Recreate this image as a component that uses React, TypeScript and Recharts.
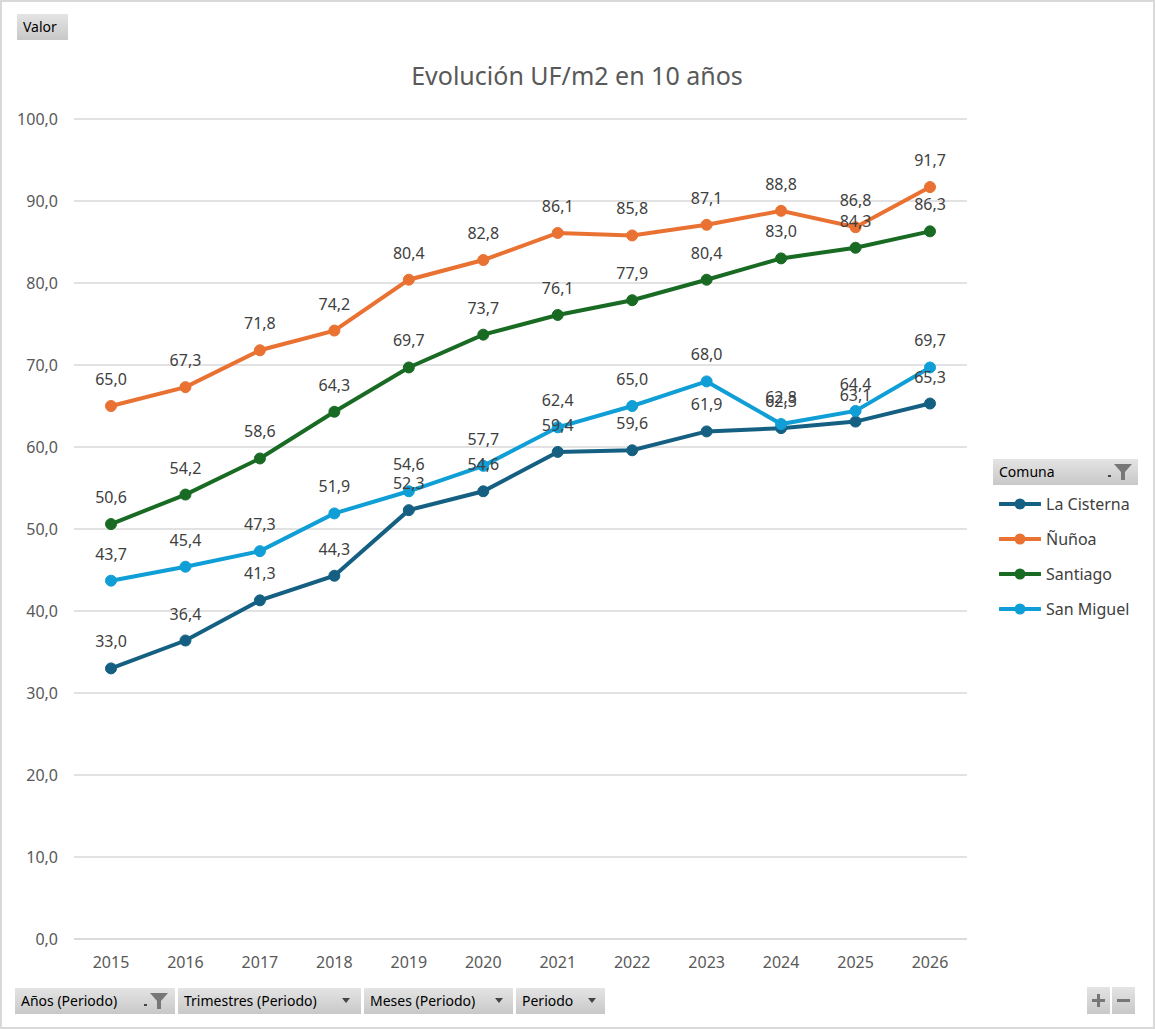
import React from 'react';
import { LineChart, Line, XAxis, YAxis, CartesianGrid, LabelList } from 'recharts';

const years = ['2015', '2016', '2017', '2018', '2019', '2020', '2021', '2022', '2023', '2024', '2025', '2026'];
const laCisterna = [33.0, 36.4, 41.3, 44.3, 52.3, 54.6, 59.4, 59.6, 61.9, 62.3, 63.1, 65.3];
const nunoa = [65.0, 67.3, 71.8, 74.2, 80.4, 82.8, 86.1, 85.8, 87.1, 88.8, 86.8, 91.7];
const santiago = [50.6, 54.2, 58.6, 64.3, 69.7, 73.7, 76.1, 77.9, 80.4, 83.0, 84.3, 86.3];
const sanMiguel = [43.7, 45.4, 47.3, 51.9, 54.6, 57.7, 62.4, 65.0, 68.0, 62.8, 64.4, 69.7];
const yTicks = [0, 10, 20, 30, 40, 50, 60, 70, 80, 90, 100];

const series = [
  { key: 'laCisterna', name: 'La Cisterna', color: '#156082', values: laCisterna },
  { key: 'nunoa', name: 'Ñuñoa', color: '#E97132', values: nunoa },
  { key: 'santiago', name: 'Santiago', color: '#196B24', values: santiago },
  { key: 'sanMiguel', name: 'San Miguel', color: '#0F9ED5', values: sanMiguel },
];

const data = years.map((year, i) => {
  const row: Record<string, string | number> = { year };
  series.forEach((s) => {
    row[s.key] = s.values[i];
  });
  return row;
});

const FONT = '"Noto Sans", "Open Sans", sans-serif';
const fmt = (v: number) => v.toFixed(1).replace('.', ',');

const btn: React.CSSProperties = {
  position: 'absolute',
  height: 26,
  background: 'linear-gradient(#e4e4e4, #c8c8c8)',
  fontFamily: FONT,
  fontSize: 14,
  color: '#000',
  lineHeight: '26px',
  boxSizing: 'border-box',
  paddingLeft: 6,
};

function Funnel({ x, y }: { x: number; y: number }) {
  return (
    <svg style={{ position: 'absolute', left: x, top: y }} width="26" height="20">
      <rect x="1" y="13" width="3" height="2" fill="#444" />
      <path d="M7 2 H25 L18 10 V18 H14 V10 Z" fill="#777" />
    </svg>
  );
}

function Arrow({ x }: { x: number }) {
  return (
    <svg style={{ position: 'absolute', left: x, top: 9 }} width="9" height="8">
      <path d="M0 1 H8 L4 6 Z" fill="#444" />
    </svg>
  );
}

const renderLabel = (props: any) => {
  const { x, y, value } = props;
  return (
    <text x={x} y={y - 21} textAnchor="middle" fill="#404040" fontSize={16} fontFamily={FONT}>
      {fmt(Number(value))}
    </text>
  );
};

export default function App() {
  return (
    <div
      style={{
        position: 'absolute',
        left: 0,
        top: 0,
        width: 1155,
        height: 1029,
        background: '#fff',
        boxSizing: 'border-box',
        border: '2px solid #d9d9d9',
        overflow: 'hidden',
      }}
    >
      <div style={{ position: 'absolute', left: -2, top: -2 }}>
        <LineChart width={1155} height={1029} data={data} margin={{ top: 119, right: 188, bottom: 60, left: 0 }}>
          <text x={577} y={85} textAnchor="middle" fill="#595959" fontSize={25} fontFamily={FONT}>
            Evolución UF/m2 en 10 años
          </text>
          <CartesianGrid vertical={false} stroke="#d9d9d9" strokeWidth={1.5} />
          <XAxis
            dataKey="year"
            padding={{ left: 37, right: 37 }}
            axisLine={{ stroke: '#d9d9d9', strokeWidth: 1.5 }}
            tickLine={false}
            height={30}
            tickMargin={12}
            tick={{ fontSize: 16, fill: '#595959', fontFamily: FONT }}
          />
          <YAxis
            domain={[0, 100]}
            ticks={yTicks}
            width={74}
            axisLine={false}
            tickLine={false}
            tickMargin={10}
            tickFormatter={fmt}
            tick={{ fontSize: 16, fill: '#595959', fontFamily: FONT }}
          />
          {series.map((s) => (
            <Line
              key={s.key}
              dataKey={s.key}
              name={s.name}
              type="linear"
              stroke={s.color}
              strokeWidth={4}
              dot={{ r: 5.5, fill: s.color, stroke: s.color, strokeWidth: 1 }}
              activeDot={false}
              isAnimationActive={false}
            >
              <LabelList dataKey={s.key} content={renderLabel} />
            </Line>
          ))}
        </LineChart>
      </div>

      {/* field buttons */}
      <div style={{ ...btn, left: 15, top: 12, width: 51 }}>Valor</div>

      <div style={{ ...btn, left: 991, top: 457, width: 145 }}>
        Comuna
        <Funnel x={114} y={3} />
      </div>
      {series.map((s, i) => (
        <div key={s.key} style={{ position: 'absolute', left: 997, top: 490 + i * 35, height: 24 }}>
          <svg width="42" height="24" style={{ position: 'absolute', left: 0, top: 0 }}>
            <line x1="1" y1="12" x2="41" y2="12" stroke={s.color} strokeWidth={4} strokeLinecap="round" />
            <circle cx="21" cy="12" r="5.5" fill={s.color} />
          </svg>
          <span
            style={{
              position: 'absolute',
              left: 47,
              top: 0,
              lineHeight: '24px',
              whiteSpace: 'nowrap',
              fontFamily: FONT,
              fontSize: 16,
              color: '#404040',
            }}
          >
            {s.name}
          </span>
        </div>
      ))}

      <div style={{ position: 'absolute', left: 0, top: 986, width: 700, height: 26 }}>
        <div style={{ ...btn, left: 13, top: 0, width: 160 }}>
          Años (Periodo)
          <Funnel x={128} y={3} />
        </div>
        <div style={{ ...btn, left: 176, top: 0, width: 183 }}>
          Trimestres (Periodo)
          <Arrow x={164} />
        </div>
        <div style={{ ...btn, left: 362, top: 0, width: 149 }}>
          Meses (Periodo)
          <Arrow x={131} />
        </div>
        <div style={{ ...btn, left: 514, top: 0, width: 89 }}>
          Periodo
          <Arrow x={72} />
        </div>
      </div>

      <div style={{ ...btn, left: 1085, top: 985, width: 23, height: 27, paddingLeft: 0 }}>
        <svg width="23" height="27">
          <rect x="5" y="12" width="13" height="3" fill="#777" />
          <rect x="10" y="7" width="3" height="13" fill="#777" />
        </svg>
      </div>
      <div style={{ ...btn, left: 1110, top: 985, width: 23, height: 27, paddingLeft: 0 }}>
        <svg width="23" height="27">
          <rect x="5" y="12" width="13" height="3" fill="#777" />
        </svg>
      </div>
    </div>
  );
}
